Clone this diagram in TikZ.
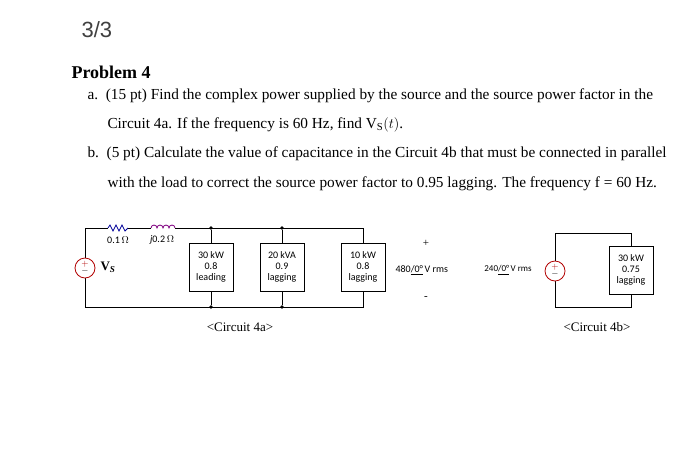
\documentclass[tikz,border=0pt]{standalone}
\usepackage{fontspec}
\setmainfont{Liberation Serif}
\newfontfamily\lblfont{Carlito}
\newfontfamily\hdfont{Liberation Sans}
\usetikzlibrary{positioning}
\begin{document}
\begin{tikzpicture}[
    x=1pt, y=-1pt,
    wire/.style={thick},
    load/.style={draw, thick, minimum width=44pt, minimum height=48pt, inner sep=1pt,
                 align=center, font=\lblfont\fontsize{10}{11}\selectfont},
    src/.style={draw=red!70!black, thick, circle, minimum size=20pt, inner sep=0pt, fill=white,
                align=center, font=\fontsize{9}{7}\selectfont},
    dot/.style={circle, fill, inner sep=1.4pt},
    lbl/.style={font=\lblfont\fontsize{10}{11}\selectfont},
    body/.style={anchor=west, font=\fontsize{15.3}{17}\selectfont}
]
\useasboundingbox (0,0) rectangle (700,467);

% Texte de l'enonce
\node[anchor=west, font=\hdfont\fontsize{22}{24}\selectfont, text=black!75] (page) at (78,30) {3/3};
\node[body, font=\bfseries\fontsize{18}{20}\selectfont] (titre) at (68,72) {Problem 4};
\node[body] (qa) at (84,96) {a.\ \ (15 pt) Find the complex power supplied by the source and the source power factor in the};
\node[body] (qa2) at (104,125) {Circuit 4a. If the frequency is 60 Hz, find $\mathrm{V_S}(t)$.};
\node[body] (qb) at (84,154) {b.\ \ (5 pt) Calculate the value of capacitance in the Circuit 4b that must be connected in parallel};
\node[body] (qb2) at (104,184) {with the load to correct the source power factor to 0.95 lagging. The frequency f = 60 Hz.};

% Circuit 4a
\coordinate (tl) at (85,228);
\coordinate (bl) at (85,307);
\coordinate (r1) at (108,228);
\coordinate (r2) at (128,228);
\coordinate (l1) at (151,228);
\coordinate (l2) at (175,228);
\node[dot] (n1) at (211,228) {};
\node[dot] (n2) at (282,228) {};
\coordinate (tr) at (363,228);
\node[dot] (m1) at (211,307) {};
\node[dot] (m2) at (282,307) {};
\coordinate (br) at (363,307);
\node[load] (ld1) at (211,267) {30 kW\\0.8\\leading};
\node[load] (ld2) at (282,267) {20 kVA\\0.9\\lagging};
\node[load] (ld3) at (363,267) {10 kW\\0.8\\lagging};

\draw[wire] (bl) -- (tl) -- (r1);
\draw[blue!60!black, thick] (r1) -- ++(2,-3) -- ++(3,6) -- ++(3,-6) -- ++(3,6) -- ++(3,-6) -- ++(3,6) -- (r2);
\draw[wire] (r2) -- (l1);
\draw[violet, thick] (l1) arc (180:360:3) arc (180:360:3) arc (180:360:3) arc (180:360:3);
\draw[wire] (l2) -- (tr) -- (ld3.north);
\draw[wire] (bl) -- (br) -- (ld3.south);
\draw[wire] (n1) -- (ld1.north);
\draw[wire] (n2) -- (ld2.north);
\draw[wire] (m1) -- (ld1.south);
\draw[wire] (m2) -- (ld2.south);

\node[src] (vs) at (85,268) {\textcolor{red!70!black}{$+$}\\$-$};
\node[anchor=west, font=\bfseries\fontsize{13}{13}\selectfont] (vsl) at (97,267) {V\textsubscript{\textit{S}}};
\node[lbl] (rl) at (118,240) {0.1\,$\Omega$};
\node[lbl] (ll) at (162,240) {\textit{j}0.2\,$\Omega$};

\node[font=\fontsize{11}{11}\selectfont] (pp) at (426,243) {+};
\node[lbl, anchor=west] (v480) at (392,270) {480\underline{/0\textdegree}\,V rms};
\node[font=\fontsize{11}{11}\selectfont] (pm) at (426,298) {-};
\node[font=\fontsize{13}{14}\selectfont] (c4a) at (240,327) {<Circuit 4a>};

% Circuit 4b
\coordinate (tl2) at (555,233);
\coordinate (bl2) at (555,307);
\coordinate (tr2) at (631,233);
\coordinate (br2) at (631,307);
\node[load] (ld4) at (631,270) {30 kW\\0.75\\lagging};
\draw[wire] (ld4.north) -- (tr2) -- (tl2) -- (bl2) -- (br2) -- (ld4.south);
\node[src] (vs2) at (555,271) {\textcolor{red!70!black}{$+$}\\$-$};
\node[lbl, font=\lblfont\fontsize{9}{10}\selectfont] (v240) at (508,270) {240\underline{/0\textdegree}\,V rms};
\node[font=\fontsize{13}{14}\selectfont] (c4b) at (597,327) {<Circuit 4b>};
\end{tikzpicture}
\end{document}
